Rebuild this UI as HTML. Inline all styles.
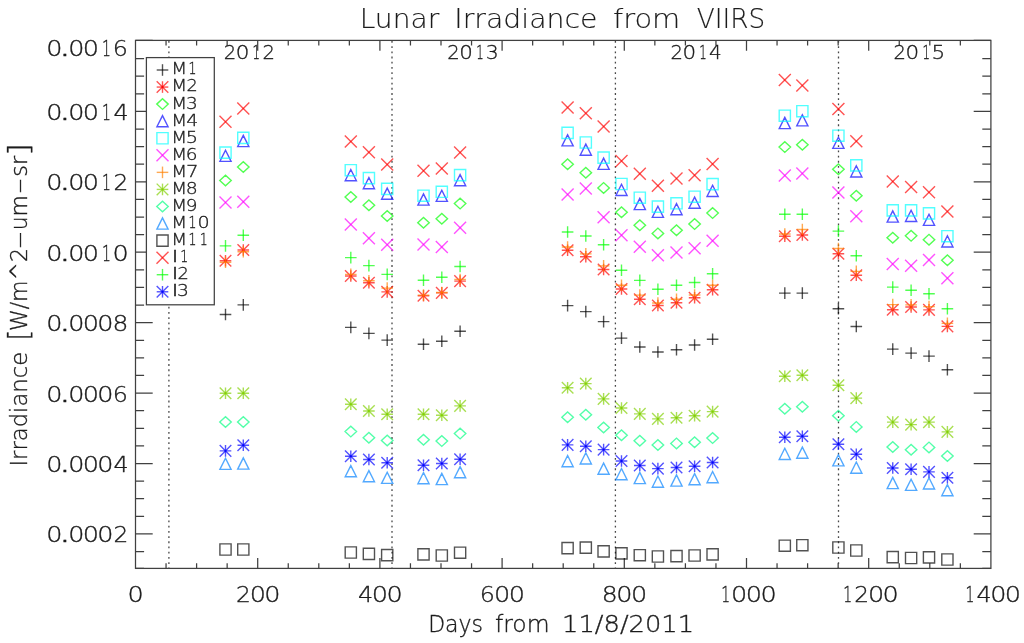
<!DOCTYPE html>
<html><head><meta charset="utf-8"><title>Lunar Irradiance from VIIRS</title>
<style>html,body{margin:0;padding:0;background:#fff;overflow:hidden}svg{display:block}
text{font-family:"DejaVu Sans","Liberation Sans",sans-serif;font-weight:200;fill:#1c1c1c;stroke:#1c1c1c;stroke-width:0.35px}text.sm{stroke-width:0.3px}text.ttl{stroke-width:0.15px}</style></head>
<body><svg width="1024" height="643" viewBox="0 0 1024 643">
<rect width="1024" height="643" fill="#fff"/>
<rect x="135.5" y="40.4" width="855.40" height="528.00" fill="none" stroke="#404040" stroke-width="1.25"/>
<path d="M166.05 568.4V563.20M166.05 40.4V45.60M196.60 568.4V563.20M196.60 40.4V45.60M227.15 568.4V563.20M227.15 40.4V45.60M257.70 568.4V558.00M257.70 40.4V50.80M288.25 568.4V563.20M288.25 40.4V45.60M318.80 568.4V563.20M318.80 40.4V45.60M349.35 568.4V563.20M349.35 40.4V45.60M379.90 568.4V558.00M379.90 40.4V50.80M410.45 568.4V563.20M410.45 40.4V45.60M441.00 568.4V563.20M441.00 40.4V45.60M471.55 568.4V563.20M471.55 40.4V45.60M502.10 568.4V558.00M502.10 40.4V50.80M532.65 568.4V563.20M532.65 40.4V45.60M563.20 568.4V563.20M563.20 40.4V45.60M593.75 568.4V563.20M593.75 40.4V45.60M624.30 568.4V558.00M624.30 40.4V50.80M654.85 568.4V563.20M654.85 40.4V45.60M685.40 568.4V563.20M685.40 40.4V45.60M715.95 568.4V563.20M715.95 40.4V45.60M746.50 568.4V558.00M746.50 40.4V50.80M777.05 568.4V563.20M777.05 40.4V45.60M807.60 568.4V563.20M807.60 40.4V45.60M838.15 568.4V563.20M838.15 40.4V45.60M868.70 568.4V558.00M868.70 40.4V50.80M899.25 568.4V563.20M899.25 40.4V45.60M929.80 568.4V563.20M929.80 40.4V45.60M960.35 568.4V563.20M960.35 40.4V45.60M135.5 568.40H144.10M990.9 568.40H982.30M135.5 551.52H144.10M990.9 551.52H982.30M135.5 533.92H152.70M990.9 533.92H973.70M135.5 516.32H144.10M990.9 516.32H982.30M135.5 498.71H144.10M990.9 498.71H982.30M135.5 481.10H144.10M990.9 481.10H982.30M135.5 463.50H152.70M990.9 463.50H973.70M135.5 445.89H144.10M990.9 445.89H982.30M135.5 428.29H144.10M990.9 428.29H982.30M135.5 410.69H144.10M990.9 410.69H982.30M135.5 393.08H152.70M990.9 393.08H973.70M135.5 375.48H144.10M990.9 375.48H982.30M135.5 357.87H144.10M990.9 357.87H982.30M135.5 340.26H144.10M990.9 340.26H982.30M135.5 322.66H152.70M990.9 322.66H973.70M135.5 305.05H144.10M990.9 305.05H982.30M135.5 287.45H144.10M990.9 287.45H982.30M135.5 269.84H144.10M990.9 269.84H982.30M135.5 252.24H152.70M990.9 252.24H973.70M135.5 234.64H144.10M990.9 234.64H982.30M135.5 217.03H144.10M990.9 217.03H982.30M135.5 199.42H144.10M990.9 199.42H982.30M135.5 181.82H152.70M990.9 181.82H973.70M135.5 164.21H144.10M990.9 164.21H982.30M135.5 146.61H144.10M990.9 146.61H982.30M135.5 129.00H144.10M990.9 129.00H982.30M135.5 111.40H152.70M990.9 111.40H973.70M135.5 93.79H144.10M990.9 93.79H982.30M135.5 76.19H144.10M990.9 76.19H982.30M135.5 58.58H144.10M990.9 58.58H982.30M135.5 40.40H152.70M990.9 40.40H973.70" stroke="#404040" stroke-width="1.25" fill="none"/>
<line x1="168.90" y1="40.4" x2="168.90" y2="568.4" stroke="#484848" stroke-width="1.3" stroke-dasharray="1.8 3.4125" stroke-dashoffset="-0.55"/>
<line x1="392.00" y1="40.4" x2="392.00" y2="568.4" stroke="#484848" stroke-width="1.3" stroke-dasharray="1.8 3.4125" stroke-dashoffset="-0.55"/>
<line x1="615.40" y1="40.4" x2="615.40" y2="568.4" stroke="#484848" stroke-width="1.3" stroke-dasharray="1.8 3.4125" stroke-dashoffset="-0.55"/>
<line x1="838.50" y1="40.4" x2="838.50" y2="568.4" stroke="#484848" stroke-width="1.3" stroke-dasharray="1.8 3.4125" stroke-dashoffset="-0.55"/>
<text x="359.71" y="27.53" font-size="26.67" textLength="79.54" lengthAdjust="spacingAndGlyphs" class="ttl">Lunar</text>
<text x="454.38" y="27.53" font-size="26.67" textLength="143.13" lengthAdjust="spacingAndGlyphs" class="ttl">Irradiance</text>
<text x="612.94" y="27.53" font-size="26.67" textLength="67.37" lengthAdjust="spacingAndGlyphs" class="ttl">from</text>
<text x="696.67" y="27.53" font-size="26.67" textLength="68.46" lengthAdjust="spacingAndGlyphs" class="ttl">VIIRS</text>
<text x="428.18" y="631.67" font-size="22.80" textLength="54.86" lengthAdjust="spacingAndGlyphs">Days</text>
<text x="494.96" y="631.67" font-size="22.80" textLength="54.62" lengthAdjust="spacingAndGlyphs">from</text>
<text x="562.13" y="631.67" font-size="22.80" textLength="131.94" lengthAdjust="spacingAndGlyphs">11/8/2011</text>
<text x="0" y="0" transform="translate(26.68 466.60) rotate(-90)" font-size="22.13" textLength="114.76" lengthAdjust="spacingAndGlyphs">Irradiance</text>
<text x="0" y="0" transform="translate(26.68 331.12) rotate(-90)" font-size="22.13" textLength="83.09" lengthAdjust="spacingAndGlyphs">W/m^2</text>
<text x="0" y="0" transform="translate(26.68 249.31) rotate(-90)" font-size="22.13" textLength="18.18" lengthAdjust="spacingAndGlyphs">-</text>
<text x="0" y="0" transform="translate(26.68 230.28) rotate(-90)" font-size="22.13" textLength="35.12" lengthAdjust="spacingAndGlyphs">um</text>
<text x="0" y="0" transform="translate(26.68 193.99) rotate(-90)" font-size="22.13" textLength="16.11" lengthAdjust="spacingAndGlyphs">-</text>
<text x="0" y="0" transform="translate(26.68 176.66) rotate(-90)" font-size="22.13" textLength="20.79" lengthAdjust="spacingAndGlyphs">sr</text>
<text x="0" y="0" transform="translate(28.82 341.00) rotate(-90)" font-size="27.69" textLength="11.70" lengthAdjust="spacingAndGlyphs">[</text>
<text x="0" y="0" transform="translate(28.82 156.12) rotate(-90)" font-size="27.69" textLength="12.94" lengthAdjust="spacingAndGlyphs">]</text>
<text x="46.26" y="55.98" font-size="21.03" textLength="16.24" lengthAdjust="spacingAndGlyphs">0</text>
<text x="57.43" y="55.98" font-size="33.64" textLength="14.84" lengthAdjust="spacingAndGlyphs">.</text>
<text x="68.31" y="55.98" font-size="21.03" textLength="16.24" lengthAdjust="spacingAndGlyphs">0</text>
<text x="82.81" y="55.98" font-size="21.03" textLength="16.24" lengthAdjust="spacingAndGlyphs">0</text>
<text x="101.95" y="55.98" font-size="21.03" textLength="8.88" lengthAdjust="spacingAndGlyphs">1</text>
<text x="112.86" y="55.98" font-size="21.03" textLength="15.16" lengthAdjust="spacingAndGlyphs">6</text>
<text x="46.26" y="119.93" font-size="21.03" textLength="16.24" lengthAdjust="spacingAndGlyphs">0</text>
<text x="57.43" y="119.93" font-size="33.64" textLength="14.84" lengthAdjust="spacingAndGlyphs">.</text>
<text x="68.31" y="119.93" font-size="21.03" textLength="16.24" lengthAdjust="spacingAndGlyphs">0</text>
<text x="82.81" y="119.93" font-size="21.03" textLength="16.24" lengthAdjust="spacingAndGlyphs">0</text>
<text x="101.95" y="119.93" font-size="21.03" textLength="8.88" lengthAdjust="spacingAndGlyphs">1</text>
<text x="113.45" y="119.93" font-size="21.03" textLength="15.17" lengthAdjust="spacingAndGlyphs">4</text>
<text x="46.26" y="190.35" font-size="21.03" textLength="16.24" lengthAdjust="spacingAndGlyphs">0</text>
<text x="57.43" y="190.35" font-size="33.64" textLength="14.84" lengthAdjust="spacingAndGlyphs">.</text>
<text x="68.31" y="190.35" font-size="21.03" textLength="16.24" lengthAdjust="spacingAndGlyphs">0</text>
<text x="82.81" y="190.35" font-size="21.03" textLength="16.24" lengthAdjust="spacingAndGlyphs">0</text>
<text x="101.95" y="190.35" font-size="21.03" textLength="8.88" lengthAdjust="spacingAndGlyphs">1</text>
<text x="113.60" y="190.35" font-size="21.03" textLength="14.85" lengthAdjust="spacingAndGlyphs">2</text>
<text x="46.26" y="260.77" font-size="21.03" textLength="16.24" lengthAdjust="spacingAndGlyphs">0</text>
<text x="57.43" y="260.77" font-size="33.64" textLength="14.84" lengthAdjust="spacingAndGlyphs">.</text>
<text x="68.31" y="260.77" font-size="21.03" textLength="16.24" lengthAdjust="spacingAndGlyphs">0</text>
<text x="82.81" y="260.77" font-size="21.03" textLength="16.24" lengthAdjust="spacingAndGlyphs">0</text>
<text x="101.95" y="260.77" font-size="21.03" textLength="8.88" lengthAdjust="spacingAndGlyphs">1</text>
<text x="112.56" y="260.77" font-size="21.03" textLength="16.24" lengthAdjust="spacingAndGlyphs">0</text>
<text x="46.26" y="331.19" font-size="21.03" textLength="16.24" lengthAdjust="spacingAndGlyphs">0</text>
<text x="57.43" y="331.19" font-size="33.64" textLength="14.84" lengthAdjust="spacingAndGlyphs">.</text>
<text x="68.31" y="331.19" font-size="21.03" textLength="16.24" lengthAdjust="spacingAndGlyphs">0</text>
<text x="82.81" y="331.19" font-size="21.03" textLength="16.24" lengthAdjust="spacingAndGlyphs">0</text>
<text x="97.31" y="331.19" font-size="21.03" textLength="16.24" lengthAdjust="spacingAndGlyphs">0</text>
<text x="112.60" y="331.19" font-size="21.03" textLength="15.91" lengthAdjust="spacingAndGlyphs">8</text>
<text x="46.26" y="401.61" font-size="21.03" textLength="16.24" lengthAdjust="spacingAndGlyphs">0</text>
<text x="57.43" y="401.61" font-size="33.64" textLength="14.84" lengthAdjust="spacingAndGlyphs">.</text>
<text x="68.31" y="401.61" font-size="21.03" textLength="16.24" lengthAdjust="spacingAndGlyphs">0</text>
<text x="82.81" y="401.61" font-size="21.03" textLength="16.24" lengthAdjust="spacingAndGlyphs">0</text>
<text x="97.31" y="401.61" font-size="21.03" textLength="16.24" lengthAdjust="spacingAndGlyphs">0</text>
<text x="112.86" y="401.61" font-size="21.03" textLength="15.16" lengthAdjust="spacingAndGlyphs">6</text>
<text x="46.26" y="472.03" font-size="21.03" textLength="16.24" lengthAdjust="spacingAndGlyphs">0</text>
<text x="57.43" y="472.03" font-size="33.64" textLength="14.84" lengthAdjust="spacingAndGlyphs">.</text>
<text x="68.31" y="472.03" font-size="21.03" textLength="16.24" lengthAdjust="spacingAndGlyphs">0</text>
<text x="82.81" y="472.03" font-size="21.03" textLength="16.24" lengthAdjust="spacingAndGlyphs">0</text>
<text x="97.31" y="472.03" font-size="21.03" textLength="16.24" lengthAdjust="spacingAndGlyphs">0</text>
<text x="113.45" y="472.03" font-size="21.03" textLength="15.17" lengthAdjust="spacingAndGlyphs">4</text>
<text x="46.26" y="542.45" font-size="21.03" textLength="16.24" lengthAdjust="spacingAndGlyphs">0</text>
<text x="57.43" y="542.45" font-size="33.64" textLength="14.84" lengthAdjust="spacingAndGlyphs">.</text>
<text x="68.31" y="542.45" font-size="21.03" textLength="16.24" lengthAdjust="spacingAndGlyphs">0</text>
<text x="82.81" y="542.45" font-size="21.03" textLength="16.24" lengthAdjust="spacingAndGlyphs">0</text>
<text x="97.31" y="542.45" font-size="21.03" textLength="16.24" lengthAdjust="spacingAndGlyphs">0</text>
<text x="113.60" y="542.45" font-size="21.03" textLength="14.85" lengthAdjust="spacingAndGlyphs">2</text>
<text x="127.46" y="602.37" font-size="21.67" textLength="16.24" lengthAdjust="spacingAndGlyphs">0</text>
<text x="236.05" y="602.37" font-size="21.67" textLength="14.85" lengthAdjust="spacingAndGlyphs">2</text>
<text x="249.66" y="602.37" font-size="21.67" textLength="16.24" lengthAdjust="spacingAndGlyphs">0</text>
<text x="264.31" y="602.37" font-size="21.67" textLength="16.24" lengthAdjust="spacingAndGlyphs">0</text>
<text x="358.10" y="602.37" font-size="21.67" textLength="15.17" lengthAdjust="spacingAndGlyphs">4</text>
<text x="371.86" y="602.37" font-size="21.67" textLength="16.24" lengthAdjust="spacingAndGlyphs">0</text>
<text x="386.51" y="602.37" font-size="21.67" textLength="16.24" lengthAdjust="spacingAndGlyphs">0</text>
<text x="479.71" y="602.37" font-size="21.67" textLength="15.16" lengthAdjust="spacingAndGlyphs">6</text>
<text x="494.06" y="602.37" font-size="21.67" textLength="16.24" lengthAdjust="spacingAndGlyphs">0</text>
<text x="508.71" y="602.37" font-size="21.67" textLength="16.24" lengthAdjust="spacingAndGlyphs">0</text>
<text x="601.65" y="602.37" font-size="21.67" textLength="15.91" lengthAdjust="spacingAndGlyphs">8</text>
<text x="616.26" y="602.37" font-size="21.67" textLength="16.24" lengthAdjust="spacingAndGlyphs">0</text>
<text x="630.91" y="602.37" font-size="21.67" textLength="16.24" lengthAdjust="spacingAndGlyphs">0</text>
<text x="721.13" y="602.37" font-size="21.67" textLength="8.88" lengthAdjust="spacingAndGlyphs">1</text>
<text x="731.13" y="602.37" font-size="21.67" textLength="16.24" lengthAdjust="spacingAndGlyphs">0</text>
<text x="745.78" y="602.37" font-size="21.67" textLength="16.24" lengthAdjust="spacingAndGlyphs">0</text>
<text x="760.43" y="602.37" font-size="21.67" textLength="16.24" lengthAdjust="spacingAndGlyphs">0</text>
<text x="843.33" y="602.37" font-size="21.67" textLength="8.88" lengthAdjust="spacingAndGlyphs">1</text>
<text x="854.38" y="602.37" font-size="21.67" textLength="14.85" lengthAdjust="spacingAndGlyphs">2</text>
<text x="867.98" y="602.37" font-size="21.67" textLength="16.24" lengthAdjust="spacingAndGlyphs">0</text>
<text x="882.63" y="602.37" font-size="21.67" textLength="16.24" lengthAdjust="spacingAndGlyphs">0</text>
<text x="965.53" y="602.37" font-size="21.67" textLength="8.88" lengthAdjust="spacingAndGlyphs">1</text>
<text x="976.42" y="602.37" font-size="21.67" textLength="15.17" lengthAdjust="spacingAndGlyphs">4</text>
<text x="990.18" y="602.37" font-size="21.67" textLength="16.24" lengthAdjust="spacingAndGlyphs">0</text>
<text x="1004.83" y="602.37" font-size="21.67" textLength="16.24" lengthAdjust="spacingAndGlyphs">0</text>
<text x="223.72" y="59.22" font-size="19.23" textLength="12.47" lengthAdjust="spacingAndGlyphs">2</text>
<text x="235.74" y="59.22" font-size="19.23" textLength="13.65" lengthAdjust="spacingAndGlyphs">0</text>
<text x="252.55" y="59.22" font-size="19.23" textLength="7.46" lengthAdjust="spacingAndGlyphs">1</text>
<text x="262.42" y="59.22" font-size="19.23" textLength="12.47" lengthAdjust="spacingAndGlyphs">2</text>
<text x="447.32" y="59.22" font-size="19.23" textLength="12.47" lengthAdjust="spacingAndGlyphs">2</text>
<text x="459.34" y="59.22" font-size="19.23" textLength="13.65" lengthAdjust="spacingAndGlyphs">0</text>
<text x="476.15" y="59.22" font-size="19.23" textLength="7.46" lengthAdjust="spacingAndGlyphs">1</text>
<text x="485.69" y="59.22" font-size="19.23" textLength="12.96" lengthAdjust="spacingAndGlyphs">3</text>
<text x="670.47" y="59.22" font-size="19.23" textLength="12.47" lengthAdjust="spacingAndGlyphs">2</text>
<text x="682.49" y="59.22" font-size="19.23" textLength="13.65" lengthAdjust="spacingAndGlyphs">0</text>
<text x="699.30" y="59.22" font-size="19.23" textLength="7.46" lengthAdjust="spacingAndGlyphs">1</text>
<text x="709.04" y="59.22" font-size="19.23" textLength="12.74" lengthAdjust="spacingAndGlyphs">4</text>
<text x="893.57" y="59.22" font-size="19.23" textLength="12.47" lengthAdjust="spacingAndGlyphs">2</text>
<text x="905.59" y="59.22" font-size="19.23" textLength="13.65" lengthAdjust="spacingAndGlyphs">0</text>
<text x="922.40" y="59.22" font-size="19.23" textLength="7.46" lengthAdjust="spacingAndGlyphs">1</text>
<text x="931.46" y="59.22" font-size="19.23" textLength="13.73" lengthAdjust="spacingAndGlyphs">5</text>
<path d="M219.70 314.50H231.30M237.50 304.90H249.10M345.00 327.40H356.60M363.10 333.40H374.70M381.40 340.10H393.00M417.70 344.20H429.30M436.00 341.30H447.60M454.30 331.20H465.90M561.80 305.60H573.40M580.00 311.60H591.60M597.80 321.60H609.40M615.70 338.10H627.30M634.00 347.00H645.60M652.10 352.00H663.70M670.70 349.80H682.30M688.80 345.00H700.40M706.80 339.20H718.40M779.00 293.10H790.60M796.55 293.10H808.15M832.60 308.80H844.20M850.50 326.50H862.10M886.95 349.10H898.55M905.30 353.10H916.90M923.20 356.10H934.80M941.60 369.80H953.20" fill="none" stroke="#000000" stroke-opacity="0.68" stroke-width="1.4"/>
<path d="M225.50 308.70V320.30M243.30 299.10V310.70M350.80 321.60V333.20M368.90 327.60V339.20M387.20 334.30V345.90M423.50 338.40V350.00M441.80 335.50V347.10M460.10 325.40V337.00M567.60 299.80V311.40M585.80 305.80V317.40M603.60 315.80V327.40M621.50 332.30V343.90M639.80 341.20V352.80M657.90 346.20V357.80M676.50 344.00V355.60M694.60 339.20V350.80M712.60 333.40V345.00M784.80 287.30V298.90M802.35 287.30V298.90M838.40 303.00V314.60M856.30 320.70V332.30M892.75 343.30V354.90M911.10 347.30V358.90M929.00 350.30V361.90M947.40 364.00V375.60" fill="none" stroke="#000000" stroke-opacity="0.68" stroke-width="1.4"/>
<path d="M219.70 260.70H231.30M237.50 250.00H249.10M345.00 276.00H356.60M363.10 282.80H374.70M381.40 291.90H393.00M417.70 295.70H429.30M436.00 292.90H447.60M454.30 281.10H465.90M561.80 250.30H573.40M580.00 256.70H591.60M597.80 269.50H609.40M615.70 289.00H627.30M634.00 299.30H645.60M652.10 305.50H663.70M670.70 302.70H682.30M688.80 297.70H700.40M706.80 289.80H718.40M779.00 236.20H790.60M796.55 235.00H808.15M832.60 253.80H844.20M850.50 275.20H862.10M886.95 309.70H898.55M905.30 307.00H916.90M923.20 309.90H934.80M941.60 326.40H953.20" fill="none" stroke="#ff0000" stroke-opacity="0.68" stroke-width="1.4"/>
<path d="M225.50 254.90V266.50M243.30 244.20V255.80M350.80 270.20V281.80M368.90 277.00V288.60M387.20 286.10V297.70M423.50 289.90V301.50M441.80 287.10V298.70M460.10 275.30V286.90M567.60 244.50V256.10M585.80 250.90V262.50M603.60 263.70V275.30M621.50 283.20V294.80M639.80 293.50V305.10M657.90 299.70V311.30M676.50 296.90V308.50M694.60 291.90V303.50M712.60 284.00V295.60M784.80 230.40V242.00M802.35 229.20V240.80M838.40 248.00V259.60M856.30 269.40V281.00M892.75 303.90V315.50M911.10 301.20V312.80M929.00 304.10V315.70M947.40 320.60V332.20" fill="none" stroke="#ff0000" stroke-opacity="0.68" stroke-width="1.4"/>
<path d="M219.70 254.90L231.30 266.50M237.50 244.20L249.10 255.80M345.00 270.20L356.60 281.80M363.10 277.00L374.70 288.60M381.40 286.10L393.00 297.70M417.70 289.90L429.30 301.50M436.00 287.10L447.60 298.70M454.30 275.30L465.90 286.90M561.80 244.50L573.40 256.10M580.00 250.90L591.60 262.50M597.80 263.70L609.40 275.30M615.70 283.20L627.30 294.80M634.00 293.50L645.60 305.10M652.10 299.70L663.70 311.30M670.70 296.90L682.30 308.50M688.80 291.90L700.40 303.50M706.80 284.00L718.40 295.60M779.00 230.40L790.60 242.00M796.55 229.20L808.15 240.80M832.60 248.00L844.20 259.60M850.50 269.40L862.10 281.00M886.95 303.90L898.55 315.50M905.30 301.20L916.90 312.80M923.20 304.10L934.80 315.70M941.60 320.60L953.20 332.20" fill="none" stroke="#ff0000" stroke-opacity="0.68" stroke-width="1.4"/>
<path d="M219.70 266.50L231.30 254.90M237.50 255.80L249.10 244.20M345.00 281.80L356.60 270.20M363.10 288.60L374.70 277.00M381.40 297.70L393.00 286.10M417.70 301.50L429.30 289.90M436.00 298.70L447.60 287.10M454.30 286.90L465.90 275.30M561.80 256.10L573.40 244.50M580.00 262.50L591.60 250.90M597.80 275.30L609.40 263.70M615.70 294.80L627.30 283.20M634.00 305.10L645.60 293.50M652.10 311.30L663.70 299.70M670.70 308.50L682.30 296.90M688.80 303.50L700.40 291.90M706.80 295.60L718.40 284.00M779.00 242.00L790.60 230.40M796.55 240.80L808.15 229.20M832.60 259.60L844.20 248.00M850.50 281.00L862.10 269.40M886.95 315.50L898.55 303.90M905.30 312.80L916.90 301.20M923.20 315.70L934.80 304.10M941.60 332.20L953.20 320.60" fill="none" stroke="#ff0000" stroke-opacity="0.68" stroke-width="1.4"/>
<path d="M219.75 180.50L225.50 175.20L231.25 180.50L225.50 185.80ZM237.55 167.05L243.30 161.75L249.05 167.05L243.30 172.35ZM345.05 197.00L350.80 191.70L356.55 197.00L350.80 202.30ZM363.15 205.20L368.90 199.90L374.65 205.20L368.90 210.50ZM381.45 216.00L387.20 210.70L392.95 216.00L387.20 221.30ZM417.75 222.80L423.50 217.50L429.25 222.80L423.50 228.10ZM436.05 218.80L441.80 213.50L447.55 218.80L441.80 224.10ZM454.35 203.60L460.10 198.30L465.85 203.60L460.10 208.90ZM561.85 164.30L567.60 159.00L573.35 164.30L567.60 169.60ZM580.05 172.80L585.80 167.50L591.55 172.80L585.80 178.10ZM597.85 187.90L603.60 182.60L609.35 187.90L603.60 193.20ZM615.75 212.30L621.50 207.00L627.25 212.30L621.50 217.60ZM634.05 225.30L639.80 220.00L645.55 225.30L639.80 230.60ZM652.15 233.40L657.90 228.10L663.65 233.40L657.90 238.70ZM670.75 230.30L676.50 225.00L682.25 230.30L676.50 235.60ZM688.85 224.10L694.60 218.80L700.35 224.10L694.60 229.40ZM706.85 213.10L712.60 207.80L718.35 213.10L712.60 218.40ZM779.05 147.10L784.80 141.80L790.55 147.10L784.80 152.40ZM796.60 144.80L802.35 139.50L808.10 144.80L802.35 150.10ZM832.65 169.30L838.40 164.00L844.15 169.30L838.40 174.60ZM850.55 195.70L856.30 190.40L862.05 195.70L856.30 201.00ZM887.00 237.70L892.75 232.40L898.50 237.70L892.75 243.00ZM905.35 235.85L911.10 230.55L916.85 235.85L911.10 241.15ZM923.25 239.65L929.00 234.35L934.75 239.65L929.00 244.95ZM941.65 260.30L947.40 255.00L953.15 260.30L947.40 265.60Z" fill="none" stroke="#00ff00" stroke-opacity="0.68" stroke-width="1.4"/>
<path d="M219.90 161.40L225.50 150.20L231.10 161.40ZM237.70 146.60L243.30 135.40L248.90 146.60ZM345.20 180.70L350.80 169.50L356.40 180.70ZM363.30 188.70L368.90 177.50L374.50 188.70ZM381.60 199.30L387.20 188.10L392.80 199.30ZM417.90 205.10L423.50 193.90L429.10 205.10ZM436.20 201.40L441.80 190.20L447.40 201.40ZM454.50 185.80L460.10 174.60L465.70 185.80ZM562.00 145.90L567.60 134.70L573.20 145.90ZM580.20 155.30L585.80 144.10L591.40 155.30ZM598.00 169.35L603.60 158.15L609.20 169.35ZM615.90 195.50L621.50 184.30L627.10 195.50ZM634.20 209.60L639.80 198.40L645.40 209.60ZM652.30 217.40L657.90 206.20L663.50 217.40ZM670.90 214.70L676.50 203.50L682.10 214.70ZM689.00 208.30L694.60 197.10L700.20 208.30ZM707.00 196.50L712.60 185.30L718.20 196.50ZM779.20 128.60L784.80 117.40L790.40 128.60ZM796.75 125.90L802.35 114.70L807.95 125.90ZM832.80 148.40L838.40 137.20L844.00 148.40ZM850.70 177.00L856.30 165.80L861.90 177.00ZM887.15 222.10L892.75 210.90L898.35 222.10ZM905.50 221.50L911.10 210.30L916.70 221.50ZM923.40 225.40L929.00 214.20L934.60 225.40ZM941.80 247.00L947.40 235.80L953.00 247.00Z" fill="none" stroke="#0000ff" stroke-opacity="0.68" stroke-width="1.4"/>
<path d="M219.90 147.00H231.10V158.20H219.90ZM237.70 132.30H248.90V143.50H237.70ZM345.20 164.60H356.40V175.80H345.20ZM363.30 172.50H374.50V183.70H363.30ZM381.60 183.30H392.80V194.50H381.60ZM417.90 190.10H429.10V201.30H417.90ZM436.20 186.20H447.40V197.40H436.20ZM454.50 169.50H465.70V180.70H454.50ZM562.00 127.30H573.20V138.50H562.00ZM580.20 136.90H591.40V148.10H580.20ZM598.00 152.00H609.20V163.20H598.00ZM615.90 178.40H627.10V189.60H615.90ZM634.20 192.10H645.40V203.30H634.20ZM652.30 201.00H663.50V212.20H652.30ZM670.90 197.70H682.10V208.90H670.90ZM689.00 191.10H700.20V202.30H689.00ZM707.00 178.50H718.20V189.70H707.00ZM779.20 110.10H790.40V121.30H779.20ZM796.75 105.60H807.95V116.80H796.75ZM832.80 130.10H844.00V141.30H832.80ZM850.70 159.80H861.90V171.00H850.70ZM887.15 204.80H898.35V216.00H887.15ZM905.50 204.80H916.70V216.00H905.50ZM923.40 207.80H934.60V219.00H923.40ZM941.80 230.60H953.00V241.80H941.80Z" fill="none" stroke="#00ffff" stroke-opacity="0.68" stroke-width="1.4"/>
<path d="M219.50 196.60L231.50 208.60M237.30 195.80L249.30 207.80M344.80 218.50L356.80 230.50M362.90 232.20L374.90 244.20M381.20 238.80L393.20 250.80M417.50 238.60L429.50 250.60M435.80 241.10L447.80 253.10M454.10 221.70L466.10 233.70M561.60 188.40L573.60 200.40M579.80 182.40L591.80 194.40M597.60 211.30L609.60 223.30M615.50 229.30L627.50 241.30M633.80 240.70L645.80 252.70M651.90 249.30L663.90 261.30M670.50 246.50L682.50 258.50M688.60 242.30L700.60 254.30M706.60 234.80L718.60 246.80M778.80 169.50L790.80 181.50M796.35 167.50L808.35 179.50M832.40 186.60L844.40 198.60M850.30 210.30L862.30 222.30M886.75 257.90L898.75 269.90M905.10 259.80L917.10 271.80M923.00 253.90L935.00 265.90M941.40 272.20L953.40 284.20" fill="none" stroke="#ff00ff" stroke-opacity="0.68" stroke-width="1.4"/>
<path d="M219.50 208.60L231.50 196.60M237.30 207.80L249.30 195.80M344.80 230.50L356.80 218.50M362.90 244.20L374.90 232.20M381.20 250.80L393.20 238.80M417.50 250.60L429.50 238.60M435.80 253.10L447.80 241.10M454.10 233.70L466.10 221.70M561.60 200.40L573.60 188.40M579.80 194.40L591.80 182.40M597.60 223.30L609.60 211.30M615.50 241.30L627.50 229.30M633.80 252.70L645.80 240.70M651.90 261.30L663.90 249.30M670.50 258.50L682.50 246.50M688.60 254.30L700.60 242.30M706.60 246.80L718.60 234.80M778.80 181.50L790.80 169.50M796.35 179.50L808.35 167.50M832.40 198.60L844.40 186.60M850.30 222.30L862.30 210.30M886.75 269.90L898.75 257.90M905.10 271.80L917.10 259.80M923.00 265.90L935.00 253.90M941.40 284.20L953.40 272.20" fill="none" stroke="#ff00ff" stroke-opacity="0.68" stroke-width="1.4"/>
<path d="M219.70 262.20H231.30M237.50 251.70H249.10M345.00 274.40H356.60M363.10 280.70H374.70M381.40 288.10H393.00M417.70 295.10H429.30M436.00 292.50H447.60M454.30 279.50H465.90M561.80 247.00H573.40M580.00 253.90H591.60M597.80 265.90H609.40M615.70 285.30H627.30M634.00 295.10H645.60M652.10 303.00H663.70M670.70 299.20H682.30M688.80 295.00H700.40M706.80 285.20H718.40M779.00 234.00H790.60M796.55 229.50H808.15M832.60 248.50H844.20M850.50 271.40H862.10M886.95 304.60H898.55M905.30 304.90H916.90M923.20 306.60H934.80M941.60 323.40H953.20" fill="none" stroke="#ff8000" stroke-opacity="0.68" stroke-width="1.4"/>
<path d="M225.50 256.40V268.00M243.30 245.90V257.50M350.80 268.60V280.20M368.90 274.90V286.50M387.20 282.30V293.90M423.50 289.30V300.90M441.80 286.70V298.30M460.10 273.70V285.30M567.60 241.20V252.80M585.80 248.10V259.70M603.60 260.10V271.70M621.50 279.50V291.10M639.80 289.30V300.90M657.90 297.20V308.80M676.50 293.40V305.00M694.60 289.20V300.80M712.60 279.40V291.00M784.80 228.20V239.80M802.35 223.70V235.30M838.40 242.70V254.30M856.30 265.60V277.20M892.75 298.80V310.40M911.10 299.10V310.70M929.00 300.80V312.40M947.40 317.60V329.20" fill="none" stroke="#ff8000" stroke-opacity="0.68" stroke-width="1.4"/>
<path d="M219.70 393.20H231.30M237.50 393.20H249.10M345.00 404.30H356.60M363.10 411.00H374.70M381.40 414.20H393.00M417.70 414.20H429.30M436.00 415.20H447.60M454.30 405.90H465.90M561.80 387.70H573.40M580.00 383.60H591.60M597.80 398.90H609.40M615.70 408.00H627.30M634.00 413.90H645.60M652.10 418.90H663.70M670.70 417.70H682.30M688.80 415.80H700.40M706.80 411.60H718.40M779.00 376.30H790.60M796.55 375.20H808.15M832.60 385.20H844.20M850.50 398.10H862.10M886.95 422.10H898.55M905.30 424.60H916.90M923.20 422.10H934.80M941.60 431.90H953.20" fill="none" stroke="#80d000" stroke-opacity="0.68" stroke-width="1.4"/>
<path d="M225.50 387.40V399.00M243.30 387.40V399.00M350.80 398.50V410.10M368.90 405.20V416.80M387.20 408.40V420.00M423.50 408.40V420.00M441.80 409.40V421.00M460.10 400.10V411.70M567.60 381.90V393.50M585.80 377.80V389.40M603.60 393.10V404.70M621.50 402.20V413.80M639.80 408.10V419.70M657.90 413.10V424.70M676.50 411.90V423.50M694.60 410.00V421.60M712.60 405.80V417.40M784.80 370.50V382.10M802.35 369.40V381.00M838.40 379.40V391.00M856.30 392.30V403.90M892.75 416.30V427.90M911.10 418.80V430.40M929.00 416.30V427.90M947.40 426.10V437.70" fill="none" stroke="#80d000" stroke-opacity="0.68" stroke-width="1.4"/>
<path d="M219.70 387.40L231.30 399.00M237.50 387.40L249.10 399.00M345.00 398.50L356.60 410.10M363.10 405.20L374.70 416.80M381.40 408.40L393.00 420.00M417.70 408.40L429.30 420.00M436.00 409.40L447.60 421.00M454.30 400.10L465.90 411.70M561.80 381.90L573.40 393.50M580.00 377.80L591.60 389.40M597.80 393.10L609.40 404.70M615.70 402.20L627.30 413.80M634.00 408.10L645.60 419.70M652.10 413.10L663.70 424.70M670.70 411.90L682.30 423.50M688.80 410.00L700.40 421.60M706.80 405.80L718.40 417.40M779.00 370.50L790.60 382.10M796.55 369.40L808.15 381.00M832.60 379.40L844.20 391.00M850.50 392.30L862.10 403.90M886.95 416.30L898.55 427.90M905.30 418.80L916.90 430.40M923.20 416.30L934.80 427.90M941.60 426.10L953.20 437.70" fill="none" stroke="#80d000" stroke-opacity="0.68" stroke-width="1.4"/>
<path d="M219.70 399.00L231.30 387.40M237.50 399.00L249.10 387.40M345.00 410.10L356.60 398.50M363.10 416.80L374.70 405.20M381.40 420.00L393.00 408.40M417.70 420.00L429.30 408.40M436.00 421.00L447.60 409.40M454.30 411.70L465.90 400.10M561.80 393.50L573.40 381.90M580.00 389.40L591.60 377.80M597.80 404.70L609.40 393.10M615.70 413.80L627.30 402.20M634.00 419.70L645.60 408.10M652.10 424.70L663.70 413.10M670.70 423.50L682.30 411.90M688.80 421.60L700.40 410.00M706.80 417.40L718.40 405.80M779.00 382.10L790.60 370.50M796.55 381.00L808.15 369.40M832.60 391.00L844.20 379.40M850.50 403.90L862.10 392.30M886.95 427.90L898.55 416.30M905.30 430.40L916.90 418.80M923.20 427.90L934.80 416.30M941.60 437.70L953.20 426.10" fill="none" stroke="#80d000" stroke-opacity="0.68" stroke-width="1.4"/>
<path d="M219.75 422.00L225.50 416.70L231.25 422.00L225.50 427.30ZM237.55 422.00L243.30 416.70L249.05 422.00L243.30 427.30ZM345.05 431.60L350.80 426.30L356.55 431.60L350.80 436.90ZM363.15 437.70L368.90 432.40L374.65 437.70L368.90 443.00ZM381.45 440.50L387.20 435.20L392.95 440.50L387.20 445.80ZM417.75 439.80L423.50 434.50L429.25 439.80L423.50 445.10ZM436.05 441.10L441.80 435.80L447.55 441.10L441.80 446.40ZM454.35 433.60L460.10 428.30L465.85 433.60L460.10 438.90ZM561.85 417.30L567.60 412.00L573.35 417.30L567.60 422.60ZM580.05 414.70L585.80 409.40L591.55 414.70L585.80 420.00ZM597.85 427.50L603.60 422.20L609.35 427.50L603.60 432.80ZM615.75 435.30L621.50 430.00L627.25 435.30L621.50 440.60ZM634.05 440.80L639.80 435.50L645.55 440.80L639.80 446.10ZM652.15 445.00L657.90 439.70L663.65 445.00L657.90 450.30ZM670.75 443.40L676.50 438.10L682.25 443.40L676.50 448.70ZM688.85 442.30L694.60 437.00L700.35 442.30L694.60 447.60ZM706.85 438.10L712.60 432.80L718.35 438.10L712.60 443.40ZM779.05 408.70L784.80 403.40L790.55 408.70L784.80 414.00ZM796.60 406.70L802.35 401.40L808.10 406.70L802.35 412.00ZM832.65 415.70L838.40 410.40L844.15 415.70L838.40 421.00ZM850.55 426.90L856.30 421.60L862.05 426.90L856.30 432.20ZM887.00 447.00L892.75 441.70L898.50 447.00L892.75 452.30ZM905.35 449.80L911.10 444.50L916.85 449.80L911.10 455.10ZM923.25 447.40L929.00 442.10L934.75 447.40L929.00 452.70ZM941.65 456.00L947.40 450.70L953.15 456.00L947.40 461.30Z" fill="none" stroke="#00ff80" stroke-opacity="0.68" stroke-width="1.4"/>
<path d="M219.90 469.40L225.50 458.20L231.10 469.40ZM237.70 469.10L243.30 457.90L248.90 469.10ZM345.20 476.80L350.80 465.60L356.40 476.80ZM363.30 481.80L368.90 470.60L374.50 481.80ZM381.60 483.40L387.20 472.20L392.80 483.40ZM417.90 483.70L423.50 472.50L429.10 483.70ZM436.20 484.60L441.80 473.40L447.40 484.60ZM454.50 477.80L460.10 466.60L465.70 477.80ZM562.00 466.70L567.60 455.50L573.20 466.70ZM580.20 464.00L585.80 452.80L591.40 464.00ZM598.00 474.30L603.60 463.10L609.20 474.30ZM615.90 479.70L621.50 468.50L627.10 479.70ZM634.20 483.60L639.80 472.40L645.40 483.60ZM652.30 487.20L657.90 476.00L663.50 487.20ZM670.90 486.10L676.50 474.90L682.10 486.10ZM689.00 484.80L694.60 473.60L700.20 484.80ZM707.00 482.70L712.60 471.50L718.20 482.70ZM779.20 459.50L784.80 448.30L790.40 459.50ZM796.75 458.30L802.35 447.10L807.95 458.30ZM832.80 465.90L838.40 454.70L844.00 465.90ZM850.70 473.20L856.30 462.00L861.90 473.20ZM887.15 488.60L892.75 477.40L898.35 488.60ZM905.50 490.40L911.10 479.20L916.70 490.40ZM923.40 489.00L929.00 477.80L934.60 489.00ZM941.80 495.80L947.40 484.60L953.00 495.80Z" fill="none" stroke="#0080ff" stroke-opacity="0.68" stroke-width="1.4"/>
<path d="M219.90 543.90H231.10V555.10H219.90ZM237.70 543.90H248.90V555.10H237.70ZM345.20 546.90H356.40V558.10H345.20ZM363.30 548.30H374.50V559.50H363.30ZM381.60 549.50H392.80V560.70H381.60ZM417.90 548.80H429.10V560.00H417.90ZM436.20 549.90H447.40V561.10H436.20ZM454.50 547.10H465.70V558.30H454.50ZM562.00 542.50H573.20V553.70H562.00ZM580.20 542.00H591.40V553.20H580.20ZM598.00 545.80H609.20V557.00H598.00ZM615.90 547.80H627.10V559.00H615.90ZM634.20 549.60H645.40V560.80H634.20ZM652.30 550.90H663.50V562.10H652.30ZM670.90 550.50H682.10V561.70H670.90ZM689.00 549.90H700.20V561.10H689.00ZM707.00 548.80H718.20V560.00H707.00ZM779.20 540.10H790.40V551.30H779.20ZM796.75 539.60H807.95V550.80H796.75ZM832.80 541.90H844.00V553.10H832.80ZM850.70 544.90H861.90V556.10H850.70ZM887.15 551.50H898.35V562.70H887.15ZM905.50 552.40H916.70V563.60H905.50ZM923.40 551.80H934.60V563.00H923.40ZM941.80 553.90H953.00V565.10H941.80Z" fill="none" stroke="#000000" stroke-opacity="0.68" stroke-width="1.4"/>
<path d="M219.50 115.70L231.50 127.70M237.30 102.60L249.30 114.60M344.80 135.50L356.80 147.50M362.90 146.30L374.90 158.30M381.20 158.40L393.20 170.40M417.50 164.70L429.50 176.70M435.80 162.50L447.80 174.50M454.10 146.50L466.10 158.50M561.60 101.50L573.60 113.50M579.80 107.30L591.80 119.30M597.60 120.60L609.60 132.60M615.50 155.10L627.50 167.10M633.80 167.80L645.80 179.80M651.90 179.70L663.90 191.70M670.50 172.50L682.50 184.50M688.60 169.20L700.60 181.20M706.60 158.00L718.60 170.00M778.80 74.10L790.80 86.10M796.35 79.60L808.35 91.60M832.40 102.90L844.40 114.90M850.30 135.30L862.30 147.30M886.75 175.60L898.75 187.60M905.10 180.90L917.10 192.90M923.00 186.30L935.00 198.30M941.40 205.40L953.40 217.40" fill="none" stroke="#ff0000" stroke-opacity="0.68" stroke-width="1.4"/>
<path d="M219.50 127.70L231.50 115.70M237.30 114.60L249.30 102.60M344.80 147.50L356.80 135.50M362.90 158.30L374.90 146.30M381.20 170.40L393.20 158.40M417.50 176.70L429.50 164.70M435.80 174.50L447.80 162.50M454.10 158.50L466.10 146.50M561.60 113.50L573.60 101.50M579.80 119.30L591.80 107.30M597.60 132.60L609.60 120.60M615.50 167.10L627.50 155.10M633.80 179.80L645.80 167.80M651.90 191.70L663.90 179.70M670.50 184.50L682.50 172.50M688.60 181.20L700.60 169.20M706.60 170.00L718.60 158.00M778.80 86.10L790.80 74.10M796.35 91.60L808.35 79.60M832.40 114.90L844.40 102.90M850.30 147.30L862.30 135.30M886.75 187.60L898.75 175.60M905.10 192.90L917.10 180.90M923.00 198.30L935.00 186.30M941.40 217.40L953.40 205.40" fill="none" stroke="#ff0000" stroke-opacity="0.68" stroke-width="1.4"/>
<path d="M219.70 245.90H231.30M237.50 235.30H249.10M345.00 257.60H356.60M363.10 265.60H374.70M381.40 274.40H393.00M417.70 280.20H429.30M436.00 277.30H447.60M454.30 266.50H465.90M561.80 232.00H573.40M580.00 236.00H591.60M597.80 244.80H609.40M615.70 270.30H627.30M634.00 280.40H645.60M652.10 289.20H663.70M670.70 285.20H682.30M688.80 282.50H700.40M706.80 273.75H718.40M779.00 214.30H790.60M796.55 214.30H808.15M832.60 231.10H844.20M850.50 255.70H862.10M886.95 287.10H898.55M905.30 290.20H916.90M923.20 293.80H934.80M941.60 308.70H953.20" fill="none" stroke="#00ff00" stroke-opacity="0.68" stroke-width="1.4"/>
<path d="M225.50 240.10V251.70M243.30 229.50V241.10M350.80 251.80V263.40M368.90 259.80V271.40M387.20 268.60V280.20M423.50 274.40V286.00M441.80 271.50V283.10M460.10 260.70V272.30M567.60 226.20V237.80M585.80 230.20V241.80M603.60 239.00V250.60M621.50 264.50V276.10M639.80 274.60V286.20M657.90 283.40V295.00M676.50 279.40V291.00M694.60 276.70V288.30M712.60 267.95V279.55M784.80 208.50V220.10M802.35 208.50V220.10M838.40 225.30V236.90M856.30 249.90V261.50M892.75 281.30V292.90M911.10 284.40V296.00M929.00 288.00V299.60M947.40 302.90V314.50" fill="none" stroke="#00ff00" stroke-opacity="0.68" stroke-width="1.4"/>
<path d="M219.70 450.90H231.30M237.50 445.30H249.10M345.00 456.20H356.60M363.10 459.50H374.70M381.40 462.80H393.00M417.70 465.20H429.30M436.00 463.50H447.60M454.30 459.30H465.90M561.80 444.90H573.40M580.00 446.20H591.60M597.80 449.60H609.40M615.70 461.00H627.30M634.00 465.50H645.60M652.10 468.60H663.70M670.70 467.50H682.30M688.80 466.25H700.40M706.80 462.50H718.40M779.00 437.30H790.60M796.55 436.20H808.15M832.60 444.20H844.20M850.50 454.30H862.10M886.95 468.00H898.55M905.30 469.20H916.90M923.20 471.85H934.80M941.60 477.80H953.20" fill="none" stroke="#0000ff" stroke-opacity="0.68" stroke-width="1.4"/>
<path d="M225.50 445.10V456.70M243.30 439.50V451.10M350.80 450.40V462.00M368.90 453.70V465.30M387.20 457.00V468.60M423.50 459.40V471.00M441.80 457.70V469.30M460.10 453.50V465.10M567.60 439.10V450.70M585.80 440.40V452.00M603.60 443.80V455.40M621.50 455.20V466.80M639.80 459.70V471.30M657.90 462.80V474.40M676.50 461.70V473.30M694.60 460.45V472.05M712.60 456.70V468.30M784.80 431.50V443.10M802.35 430.40V442.00M838.40 438.40V450.00M856.30 448.50V460.10M892.75 462.20V473.80M911.10 463.40V475.00M929.00 466.05V477.65M947.40 472.00V483.60" fill="none" stroke="#0000ff" stroke-opacity="0.68" stroke-width="1.4"/>
<path d="M219.70 445.10L231.30 456.70M237.50 439.50L249.10 451.10M345.00 450.40L356.60 462.00M363.10 453.70L374.70 465.30M381.40 457.00L393.00 468.60M417.70 459.40L429.30 471.00M436.00 457.70L447.60 469.30M454.30 453.50L465.90 465.10M561.80 439.10L573.40 450.70M580.00 440.40L591.60 452.00M597.80 443.80L609.40 455.40M615.70 455.20L627.30 466.80M634.00 459.70L645.60 471.30M652.10 462.80L663.70 474.40M670.70 461.70L682.30 473.30M688.80 460.45L700.40 472.05M706.80 456.70L718.40 468.30M779.00 431.50L790.60 443.10M796.55 430.40L808.15 442.00M832.60 438.40L844.20 450.00M850.50 448.50L862.10 460.10M886.95 462.20L898.55 473.80M905.30 463.40L916.90 475.00M923.20 466.05L934.80 477.65M941.60 472.00L953.20 483.60" fill="none" stroke="#0000ff" stroke-opacity="0.68" stroke-width="1.4"/>
<path d="M219.70 456.70L231.30 445.10M237.50 451.10L249.10 439.50M345.00 462.00L356.60 450.40M363.10 465.30L374.70 453.70M381.40 468.60L393.00 457.00M417.70 471.00L429.30 459.40M436.00 469.30L447.60 457.70M454.30 465.10L465.90 453.50M561.80 450.70L573.40 439.10M580.00 452.00L591.60 440.40M597.80 455.40L609.40 443.80M615.70 466.80L627.30 455.20M634.00 471.30L645.60 459.70M652.10 474.40L663.70 462.80M670.70 473.30L682.30 461.70M688.80 472.05L700.40 460.45M706.80 468.30L718.40 456.70M779.00 443.10L790.60 431.50M796.55 442.00L808.15 430.40M832.60 450.00L844.20 438.40M850.50 460.10L862.10 448.50M886.95 473.80L898.55 462.20M905.30 475.00L916.90 463.40M923.20 477.65L934.80 466.05M941.60 483.60L953.20 472.00" fill="none" stroke="#0000ff" stroke-opacity="0.68" stroke-width="1.4"/>
<rect x="146.4" y="57.6" width="67.90" height="247.20" fill="#fff" stroke="#404040" stroke-width="1.25"/>
<path d="M156.70 70.00H168.30" fill="none" stroke="#000000" stroke-opacity="0.68" stroke-width="1.4"/>
<path d="M162.50 64.20V75.80" fill="none" stroke="#000000" stroke-opacity="0.68" stroke-width="1.4"/>
<text x="171.34" y="74.40" font-size="15.07" textLength="15.87" lengthAdjust="spacingAndGlyphs" class="sm">M</text>
<text x="188.54" y="74.40" font-size="15.07" textLength="7.99" lengthAdjust="spacingAndGlyphs" class="sm">1</text>
<path d="M156.70 87.06H168.30" fill="none" stroke="#ff0000" stroke-opacity="0.68" stroke-width="1.4"/>
<path d="M162.50 81.26V92.86" fill="none" stroke="#ff0000" stroke-opacity="0.68" stroke-width="1.4"/>
<path d="M156.70 81.26L168.30 92.86" fill="none" stroke="#ff0000" stroke-opacity="0.68" stroke-width="1.4"/>
<path d="M156.70 92.86L168.30 81.26" fill="none" stroke="#ff0000" stroke-opacity="0.68" stroke-width="1.4"/>
<text x="171.34" y="91.46" font-size="15.07" textLength="15.87" lengthAdjust="spacingAndGlyphs" class="sm">M</text>
<text x="186.54" y="91.46" font-size="15.07" textLength="11.27" lengthAdjust="spacingAndGlyphs" class="sm">2</text>
<path d="M156.75 104.12L162.50 98.82L168.25 104.12L162.50 109.42Z" fill="none" stroke="#00ff00" stroke-opacity="0.68" stroke-width="1.4"/>
<text x="171.34" y="108.52" font-size="15.07" textLength="15.87" lengthAdjust="spacingAndGlyphs" class="sm">M</text>
<text x="186.10" y="108.52" font-size="15.07" textLength="11.78" lengthAdjust="spacingAndGlyphs" class="sm">3</text>
<path d="M156.90 126.78L162.50 115.58L168.10 126.78Z" fill="none" stroke="#0000ff" stroke-opacity="0.68" stroke-width="1.4"/>
<text x="171.34" y="125.58" font-size="15.07" textLength="15.87" lengthAdjust="spacingAndGlyphs" class="sm">M</text>
<text x="186.15" y="125.58" font-size="15.07" textLength="11.99" lengthAdjust="spacingAndGlyphs" class="sm">4</text>
<path d="M156.90 132.64H168.10V143.84H156.90Z" fill="none" stroke="#00ffff" stroke-opacity="0.68" stroke-width="1.4"/>
<text x="171.34" y="142.64" font-size="15.07" textLength="15.87" lengthAdjust="spacingAndGlyphs" class="sm">M</text>
<text x="185.76" y="142.64" font-size="15.07" textLength="12.29" lengthAdjust="spacingAndGlyphs" class="sm">5</text>
<path d="M156.50 149.30L168.50 161.30" fill="none" stroke="#ff00ff" stroke-opacity="0.68" stroke-width="1.4"/>
<path d="M156.50 161.30L168.50 149.30" fill="none" stroke="#ff00ff" stroke-opacity="0.68" stroke-width="1.4"/>
<text x="171.34" y="159.70" font-size="15.07" textLength="15.87" lengthAdjust="spacingAndGlyphs" class="sm">M</text>
<text x="185.83" y="159.70" font-size="15.07" textLength="11.78" lengthAdjust="spacingAndGlyphs" class="sm">6</text>
<path d="M156.70 172.36H168.30" fill="none" stroke="#ff8000" stroke-opacity="0.68" stroke-width="1.4"/>
<path d="M162.50 166.56V178.16" fill="none" stroke="#ff8000" stroke-opacity="0.68" stroke-width="1.4"/>
<text x="171.34" y="176.76" font-size="15.07" textLength="15.87" lengthAdjust="spacingAndGlyphs" class="sm">M</text>
<text x="185.92" y="176.76" font-size="15.07" textLength="12.59" lengthAdjust="spacingAndGlyphs" class="sm">7</text>
<path d="M156.70 189.42H168.30" fill="none" stroke="#80d000" stroke-opacity="0.68" stroke-width="1.4"/>
<path d="M162.50 183.62V195.22" fill="none" stroke="#80d000" stroke-opacity="0.68" stroke-width="1.4"/>
<path d="M156.70 183.62L168.30 195.22" fill="none" stroke="#80d000" stroke-opacity="0.68" stroke-width="1.4"/>
<path d="M156.70 195.22L168.30 183.62" fill="none" stroke="#80d000" stroke-opacity="0.68" stroke-width="1.4"/>
<text x="171.34" y="193.82" font-size="15.07" textLength="15.87" lengthAdjust="spacingAndGlyphs" class="sm">M</text>
<text x="185.70" y="193.82" font-size="15.07" textLength="12.03" lengthAdjust="spacingAndGlyphs" class="sm">8</text>
<path d="M156.75 206.48L162.50 201.18L168.25 206.48L162.50 211.78Z" fill="none" stroke="#00ff80" stroke-opacity="0.68" stroke-width="1.4"/>
<text x="171.34" y="210.88" font-size="15.07" textLength="15.87" lengthAdjust="spacingAndGlyphs" class="sm">M</text>
<text x="185.73" y="210.88" font-size="15.07" textLength="11.78" lengthAdjust="spacingAndGlyphs" class="sm">9</text>
<path d="M156.90 229.14L162.50 217.94L168.10 229.14Z" fill="none" stroke="#0080ff" stroke-opacity="0.68" stroke-width="1.4"/>
<text x="171.34" y="227.94" font-size="15.07" textLength="15.87" lengthAdjust="spacingAndGlyphs" class="sm">M</text>
<text x="188.44" y="227.94" font-size="15.07" textLength="7.99" lengthAdjust="spacingAndGlyphs" class="sm">1</text>
<text x="197.47" y="227.94" font-size="15.07" textLength="12.18" lengthAdjust="spacingAndGlyphs" class="sm">0</text>
<path d="M156.90 235.00H168.10V246.20H156.90Z" fill="none" stroke="#000000" stroke-opacity="0.68" stroke-width="1.4"/>
<text x="171.34" y="245.00" font-size="15.07" textLength="15.87" lengthAdjust="spacingAndGlyphs" class="sm">M</text>
<text x="188.44" y="245.00" font-size="15.07" textLength="7.99" lengthAdjust="spacingAndGlyphs" class="sm">1</text>
<text x="199.74" y="245.00" font-size="15.07" textLength="7.99" lengthAdjust="spacingAndGlyphs" class="sm">1</text>
<path d="M156.50 251.66L168.50 263.66" fill="none" stroke="#ff0000" stroke-opacity="0.68" stroke-width="1.4"/>
<path d="M156.50 263.66L168.50 251.66" fill="none" stroke="#ff0000" stroke-opacity="0.68" stroke-width="1.4"/>
<text x="171.17" y="262.06" font-size="15.07" textLength="7.59" lengthAdjust="spacingAndGlyphs" class="sm">I</text>
<text x="180.14" y="262.06" font-size="15.07" textLength="7.99" lengthAdjust="spacingAndGlyphs" class="sm">1</text>
<path d="M156.70 274.72H168.30" fill="none" stroke="#00ff00" stroke-opacity="0.68" stroke-width="1.4"/>
<path d="M162.50 268.92V280.52" fill="none" stroke="#00ff00" stroke-opacity="0.68" stroke-width="1.4"/>
<text x="171.17" y="279.12" font-size="15.07" textLength="7.59" lengthAdjust="spacingAndGlyphs" class="sm">I</text>
<text x="177.43" y="279.12" font-size="15.07" textLength="11.40" lengthAdjust="spacingAndGlyphs" class="sm">2</text>
<path d="M156.70 291.78H168.30" fill="none" stroke="#0000ff" stroke-opacity="0.68" stroke-width="1.4"/>
<path d="M162.50 285.98V297.58" fill="none" stroke="#0000ff" stroke-opacity="0.68" stroke-width="1.4"/>
<path d="M156.70 285.98L168.30 297.58" fill="none" stroke="#0000ff" stroke-opacity="0.68" stroke-width="1.4"/>
<path d="M156.70 297.58L168.30 285.98" fill="none" stroke="#0000ff" stroke-opacity="0.68" stroke-width="1.4"/>
<text x="171.17" y="296.18" font-size="15.07" textLength="7.59" lengthAdjust="spacingAndGlyphs" class="sm">I</text>
<text x="177.09" y="296.18" font-size="15.07" textLength="11.91" lengthAdjust="spacingAndGlyphs" class="sm">3</text>
</svg></body></html>
